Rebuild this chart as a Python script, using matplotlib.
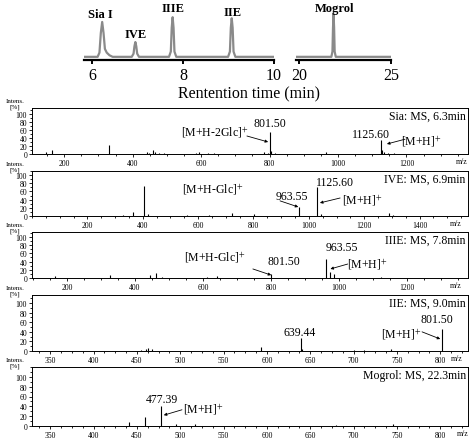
import matplotlib.pyplot as plt
from matplotlib.ticker import MultipleLocator, AutoMinorLocator

plt.rcParams['font.family'] = ['Liberation Serif', 'DejaVu Serif']
plt.rcParams['mathtext.fontset'] = 'stix'

W, H, DPI = 474, 439, 100

# chromatogram traces (retention time in min, relative signal)
rt_a = [5.82, 6.12, 6.16, 6.19, 6.22, 6.25, 6.28, 6.32, 6.38, 6.45,
        6.87, 6.91, 6.93, 6.95, 6.97, 6.99, 7.03,
        7.69, 7.73, 7.75, 7.77, 7.79, 7.81, 7.85,
        8.99, 9.03, 9.05, 9.07, 9.09, 9.11, 9.15, 10.0]
sig_a = [0, 0, 0.08, 0.45, 0.66, 0.45, 0.15, 0.08, 0.03, 0,
         0, 0.06, 0.2, 0.28, 0.2, 0.06, 0,
         0, 0.1, 0.55, 0.75, 0.55, 0.1, 0,
         0, 0.1, 0.55, 0.73, 0.55, 0.1, 0, 0]
rt_b = [19.84, 21.76, 21.82, 21.85, 21.88, 21.91, 21.94, 22.0, 25.0]
sig_b = [0, 0, 0.1, 0.55, 0.81, 0.55, 0.1, 0, 0]

peak_names = ['Sia I', 'IVE', 'IIIE', 'IIE']
peak_rt = [6.18, 6.95, 7.78, 9.08]

# mass spectra (m/z, relative intensity %)
sia_mz = [147, 163, 330, 441, 447, 461, 465, 477, 491, 585, 595, 621, 639,
          785, 795, 801.5, 803, 815, 965, 1125.6, 1128, 1135, 1147, 1163]
sia_int = [5, 10, 22, 6, 3, 10, 4, 3, 2, 3, 4, 2, 3,
           4, 3, 55, 8, 3, 4, 35, 10, 5, 3, 2]

ive_mz = [330, 365, 404, 420, 560, 640, 723, 801, 965, 1030, 1045, 1290, 1305]
ive_int = [3, 10, 74, 4, 2, 3, 8, 4, 22, 72, 6, 8, 3]

iiie_mz = [165, 326, 444, 462, 480, 611, 640, 801.5, 963.55, 975, 985, 1125]
iiie_int = [4, 7, 8, 12, 3, 3, 5, 10, 46, 15, 9, 2]

iie_mz = [455, 460, 463, 467, 593, 639.44, 641, 700, 712, 743, 801.5]
iie_int = [3, 4, 6, 4, 8, 27, 4, 2, 2, 5, 46]

mog_mz = [441, 459, 477.39, 495, 517, 680, 745]
mog_int = [9, 19, 41, 5, 5, 2, 5]


def box(l, t, r, b):
    return [l / W, 1 - b / H, (r - l) / W, (b - t) / H]


fig = plt.figure(figsize=(W / DPI, H / DPI), dpi=DPI)

# --- chromatogram ---
ca = fig.add_axes(box(84, 5, 274, 61))
cb = fig.add_axes(box(296, 5, 391, 61))
for ax, rt, sig, lim, ticks in [(ca, rt_a, sig_a, (5.82, 10.0), [6, 8, 10]),
                                (cb, rt_b, sig_b, (19.84, 25.0), [20, 25])]:
    ax.plot(rt, sig, color='#8a8a8a', lw=1.6)
    ax.set_xlim(*lim)
    ax.set_ylim(-0.06, 1.0)
    ax.set_xticks(ticks)
    ax.set_yticks([])
    for s in ['top', 'right', 'left']:
        ax.spines[s].set_visible(False)
    ax.spines['bottom'].set_linewidth(1.6)
    ax.tick_params(axis='x', length=3, width=1.4, pad=2, labelsize=11.5)
    ax.patch.set_alpha(0)

lab_y = [0.81, 0.43, 0.915, 0.85]
for name, rt, y in zip(peak_names, peak_rt, lab_y):
    ca.text(rt, y, name, ha='center', va='center', fontsize=9, fontweight='bold')
cb.text(21.96, 0.915, 'Mogrol', ha='center', va='center', fontsize=9, fontweight='bold')
fig.text(249 / W, 1 - 94 / H, 'Rentention time (min)', ha='center', va='center', fontsize=11.5)

# --- mass spectra ---
MH = '[M+H]$^{+}$'
panels = [
    dict(title='Sia: MS, 6.3min', mz=sia_mz, inten=sia_int, box=(32, 109, 468, 155),
         xlim=(106, 1380), ymax=115, xt=range(200, 1201, 200), mzx=462,
         texts=[('801.50', 801.5, 78), ('[M+H-2Glc]$^{+}$', 641, 55),
                ('1125.60', 1097, 50), (MH, 1245, 32)],
         arrows=[((734, 45), (796, 30)), ((1196, 37), (1143, 25))]),
    dict(title='IVE: MS, 6.9min', mz=ive_mz, inten=ive_int, box=(32, 172, 468, 217),
         xlim=(0, 1575), ymax=110, xt=range(200, 1401, 200), mzx=456,
         texts=[('1125.60', 1095, 83), ('963.55', 939, 49),
                ('[M+H-Glc]$^{+}$', 654, 66), (MH, 1195, 41)],
         arrows=[((896, 37), (962, 22)), ((1113, 44), (1040, 32))]),
    dict(title='IIIE: MS, 7.8min', mz=iiie_mz, inten=iiie_int, box=(32, 233, 468, 279),
         xlim=(97, 1380), ymax=112, xt=range(200, 1201, 200), mzx=456,
         texts=[('963.55', 1009, 76), ('801.50', 838, 42),
                ('[M+H-Glc]$^{+}$', 635, 51), (MH, 1085, 34)],
         arrows=[((747, 22), (801, 7)), ((1026, 34), (975, 22))]),
    dict(title='IIE: MS, 9.0min', mz=iie_mz, inten=iie_int, box=(32, 296, 468, 352),
         xlim=(329, 832), ymax=117, xt=range(350, 801, 50), mzx=457,
         texts=[('801.50', 796, 67), ('639.44', 638, 40), (MH, 755, 36)],
         arrows=[((779, 40), (800, 25))]),
    dict(title='Mogrol: MS, 22.3min', mz=mog_mz, inten=mog_int, box=(32, 368, 468, 427),
         xlim=(329, 832), ymax=120, xt=range(350, 801, 50), mzx=463,
         texts=[('477.39', 479, 55), (MH, 527, 35)],
         arrows=[((502, 33), (481, 22))]),
]

for p in panels:
    ax = fig.add_axes(box(*p['box']))
    ax.vlines(p['mz'], 0, p['inten'], color='black', lw=0.8)
    ax.set_xlim(*p['xlim'])
    ax.set_ylim(0, p['ymax'])
    ax.set_xticks(list(p['xt']))
    ax.xaxis.set_minor_locator(AutoMinorLocator(4))
    ax.set_yticks(range(0, 101, 20))
    ax.yaxis.set_minor_locator(MultipleLocator(10))
    ax.tick_params(which='both', direction='out', labelsize=5.5, width=0.6, pad=1.5)
    ax.tick_params(which='major', length=2)
    ax.tick_params(which='minor', length=1.2)
    for s in ax.spines.values():
        s.set_linewidth(0.7)
    ax.text(0.995, 0.97, p['title'], transform=ax.transAxes, ha='right', va='top', fontsize=8.5)
    for t, x, y in p['texts']:
        ax.text(x, y, t, ha='center', va='center', fontsize=8.5)
    for (x0, y0), (x1, y1) in p['arrows']:
        ax.annotate('', xy=(x1, y1), xytext=(x0, y0),
                    arrowprops=dict(arrowstyle='-|>', lw=0.6, color='black',
                                    mutation_scale=4, shrinkA=0, shrinkB=0))
    l, t, r, b = p['box']
    fig.text(p['mzx'] / W, 1 - (b + 7) / H, 'm/z', ha='center', va='center', fontsize=5.5)
    fig.text(15 / W, 1 - (t - 4.5) / H, 'Intens.\n[%]', ha='center', va='center',
             fontsize=5, linespacing=0.9)

fig.savefig('out.png', dpi=DPI)
